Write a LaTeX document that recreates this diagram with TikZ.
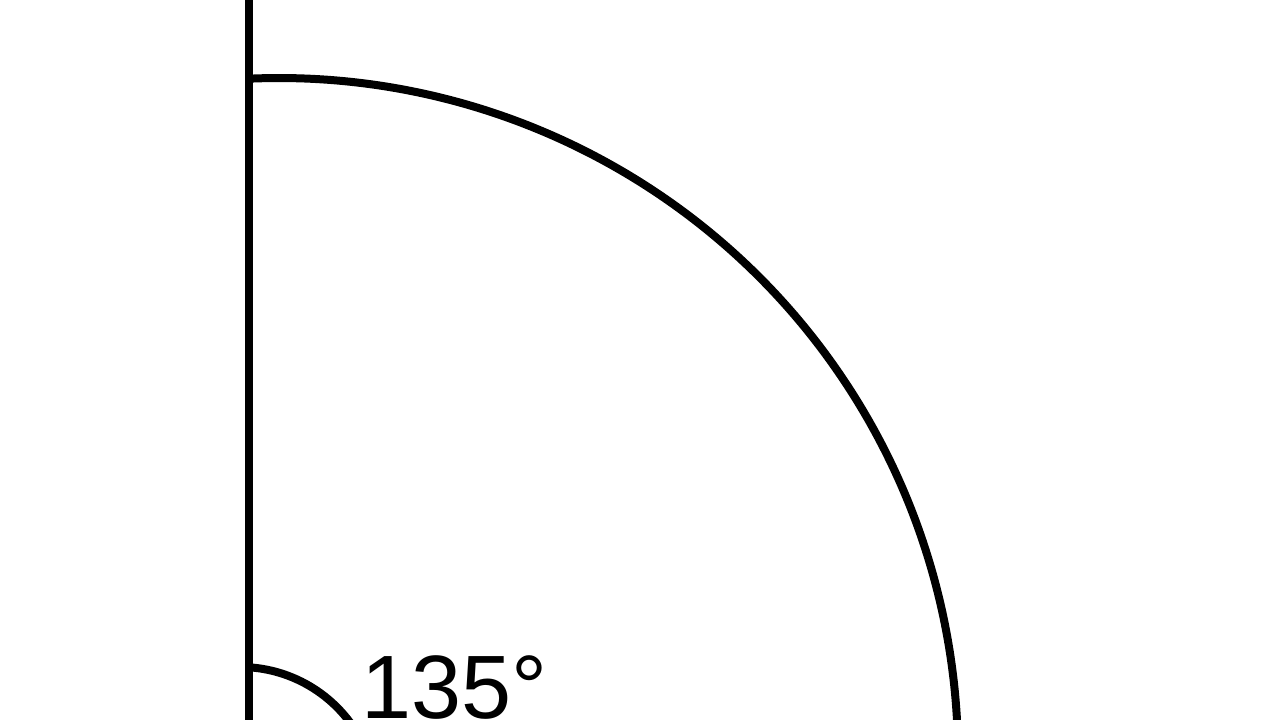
\documentclass[tikz,border=0pt]{standalone}
\usepackage{fontspec}
\setmainfont{Liberation Sans}

\begin{document}
\begin{tikzpicture}[x=1pt,y=1pt]
\tikzstyle{stroke} = [draw=black, line width=8pt]
\tikzstyle{anglelabel} = [inner sep=0pt, anchor=base west, font=\fontsize{90}{90}\selectfont]

\useasboundingbox (0,0) rectangle (1280,720);
\clip (0,0) rectangle (1280,720);

\coordinate (bigcentre) at (279,-37);
\coordinate (smallcentre) at (240,-84);
\coordinate (legbottom) at (249,-10);
\coordinate (legtop) at (249,730);

\draw[stroke] ([shift={(92.6:679)}]bigcentre) arc (92.6:-2:679);
\draw[stroke] ([shift={(86.6:137)}]smallcentre) arc (86.6:25:137);
\draw[stroke] (legbottom) -- (legtop);

\node(angle) [anglelabel] at (361,1) {135°};
\end{tikzpicture}
\end{document}
